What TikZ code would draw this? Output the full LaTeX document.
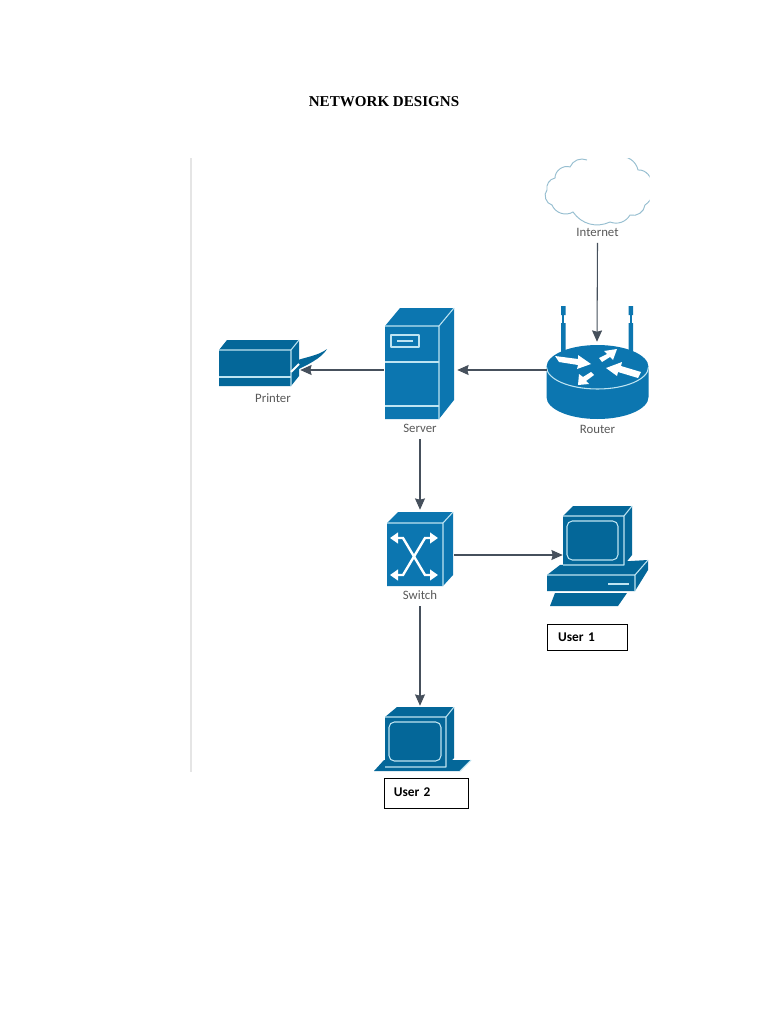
\documentclass[tikz,border=0pt]{standalone}
\usepackage{fontspec}
\setmainfont{Liberation Serif}
\newfontfamily\labelfont{Carlito}
\usepackage{tikz}
\usetikzlibrary{arrows.meta}

\definecolor{devblue}{RGB}{12,118,176}
\definecolor{pcblue}{RGB}{4,103,153}
\definecolor{edgeblue}{RGB}{190,228,242}
\definecolor{cloudline}{RGB}{150,190,208}
\definecolor{linkgray}{RGB}{70,80,92}
\tikzset{
  edge/.style={draw=edgeblue,line width=0.8pt,line join=round},
  frame/.style n args={2}{inner sep=0pt,minimum width=#1*0.75pt,minimum height=#2*0.75pt},
  lbl/.style={inner sep=0pt,minimum height=15.75pt,text=black!65,font=\labelfont\fontsize{9.6}{10}\selectfont},
  userbox/.style={draw=black,line width=0.7pt,inner sep=0pt,anchor=north west,text=black,align=left,font=\labelfont\bfseries\fontsize{10}{12}\selectfont},
  link/.style={draw=linkgray,line width=0.8pt,-{Stealth[length=8.5pt,width=7.5pt,inset=1pt]}},
}

\begin{document}
\begin{tikzpicture}[x=0.75pt,y=0.75pt,yscale=-1]
\useasboundingbox (0,0) rectangle (768,1024);
\fill [white] (0,0) rectangle (768,1024);

% Text Node
\node (title) at (384,101.5) [inner sep=0pt,font=\bfseries\fontsize{11.3}{13}\selectfont] {NETWORK DESIGNS};
\fill [black!10] (189.5,158) rectangle (191.5,772);

% Cloud
\begin{scope}
\clip (540,158) rectangle (649.5,230);
\draw [cloudline,line width=0.7pt] (587,160) to[bend left=45] (570,167) to[bend left=55] (555,178) to[bend left=45] (547,190) to[bend left=60] (552,205) to[bend left=50] (573,212) to[bend left=40] (610,222) to[bend left=40] (630,215) to[bend left=50] (645,205) to[bend left=40] (651,185) to[bend left=55] (638,170) to[bend left=45] (618,157);
\end{scope}

% Router
\fill [devblue] (561,306) rectangle (565.5,315) (561,323) rectangle (565.5,352) (628.5,306) rectangle (633,315) (628.5,323) rectangle (633,352);
\draw [devblue,line width=0.8pt] (563,315) -- (563,323) (631,315) -- (631,323);
\fill [devblue] (546.5,367) -- (546.5,397) arc[start angle=180,end angle=0,x radius=51,y radius=22] -- (648.5,367) arc[start angle=0,end angle=-180,x radius=51,y radius=22] -- cycle;
\draw [edge] (546.5,367) arc[start angle=180,end angle=0,x radius=51,y radius=22];
\fill [white] (555,356) -- (578,359) -- (578,355) -- (591,364) -- (577,369) -- (578,365) -- (559,362) -- cycle;
\fill [white] (599,358) -- (607,354) -- (604,351) -- (617,349) -- (613,360) -- (610,357) -- (602,362) -- cycle;
\fill [white] (641,372) -- (621,366) -- (622,362) -- (606,368) -- (617,376) -- (618,372) -- (638,378) -- cycle;
\fill [white] (591,372) -- (594,375) -- (586,381) -- (589,384) -- (578,385) -- (579,374) -- (583,377) -- cycle;

% Server
\fill [devblue] (385,326) -- (400,308) -- (454,308) -- (454,400) -- (439,419) -- (385,419) -- cycle;
\draw [edge] (385,326) -- (439,326) -- (454,308) (439,326) -- (439,419);
\draw [edge] (385,362) -- (439,362) (385,406) -- (439,406);
\draw [edge] (391,335) rectangle (419,347);
\draw [edge,line width=1pt] (397,341) -- (413,341);

% Printer
\fill [pcblue] (292,362) .. controls (305,357) and (318,356) .. (327,349) .. controls (322,358) and (306,366) .. (292,372) -- cycle;
\fill [pcblue] (219,350) -- (227,340) -- (299,340) -- (299,376) -- (291,386) -- (219,386) -- cycle;
\draw [edge] (219,350) -- (291,350) -- (299,340) (291,350) -- (291,386);
\draw [edge] (219,377) -- (291,377);
\draw [white,line width=1.4pt] (291,372) -- (299,364);

% Switch
\fill [devblue] (387,523) -- (398,512) -- (453,512) -- (453,575) -- (443,586) -- (387,586) -- cycle;
\draw [edge] (387,523) -- (443,523) -- (453,512) (443,523) -- (443,586);
\draw [white,line width=1.8pt,{Triangle[length=6pt,width=8pt]}-{Triangle[length=6pt,width=8pt]}] (390,538) -- (403,538) -- (425,575) -- (438,575);
\draw [white,line width=1.8pt,{Triangle[length=6pt,width=8pt]}-{Triangle[length=6pt,width=8pt]}] (390,575) -- (403,575) -- (425,538) -- (438,538);

% User 1 computer
\fill [pcblue] (555,593) -- (627,593) -- (618,606) -- (550,606) -- cycle;
\fill [pcblue] (560,565) -- (648,560) -- (648,570) -- (635,591) -- (547,591) -- (547,575) -- cycle;
\draw [edge] (547,575) -- (635,575) -- (648,560) (635,575) -- (635,591);
\draw [edge,line width=1pt] (608,584) -- (629,584);
\fill [pcblue] (563,516) -- (573,506) -- (632,506) -- (632,555) -- (624,565) -- (563,565) -- cycle;
\draw [edge] (563,516) -- (624,516) -- (632,506) (624,516) -- (624,565) -- (563,565);
\draw [edge,rounded corners=4pt] (567,521) rectangle (618,560);

% User 2 computer
\fill [pcblue] (384,760) -- (471,760) -- (460,771) -- (374,771) -- cycle;
\draw [edge] (460,771) -- (471,760);
\fill [pcblue] (385,717) -- (397,707) -- (454,707) -- (454,758) -- (446,767) -- (385,767) -- cycle;
\draw [edge] (385,717) -- (446,717) -- (454,707) (446,717) -- (446,767) -- (385,767);
\draw [edge,rounded corners=4pt] (389,722) rectangle (441,761);

% Text Node
\node [lbl] (lblinternet) at (597.5,232) {Internet};
\node [lbl] (lblrouter) at (597.5,429) {Router};
\node [lbl] (lblprinter) at (273,398) {Printer};
\node [lbl] (lblserver) at (420,428.5) {Server};
\node [lbl] (lblswitch) at (420,595.5) {Switch};
\node [userbox,minimum width=60pt,minimum height=19.5pt,text width=44pt,inner xsep=8pt] (user1box) at (547,624) {User 1};
\node [userbox,minimum width=63pt,minimum height=22.5pt,text width=49pt,inner xsep=7pt,text height=7pt,text depth=2pt] (user2box) at (384,778) {User 2};

% device frames
\node [frame={100}{56}] (router) at (597,370) {};
\node [frame={73}{100}] (server) at (420.5,370) {};
\node [frame={80}{40}] (printer) at (260,370) {};
\node [frame={68}{90}] (switch) at (420,555) {};
\node [frame={74}{60}] (user1) at (600,555) {};
\node [frame={68}{68}] (user2) at (420,740) {};

% links
\draw [link] (lblinternet.south) -- (router.north);
\draw [link] (router.west) -- (server.east);
\draw [link] (server.west) -- (printer.east);
\draw [link] (lblserver.south) -- (switch.north);
\draw [link] (switch.east) -- (user1.west);
\draw [link] (lblswitch.south) -- (user2.north);

\end{tikzpicture}
\end{document}
